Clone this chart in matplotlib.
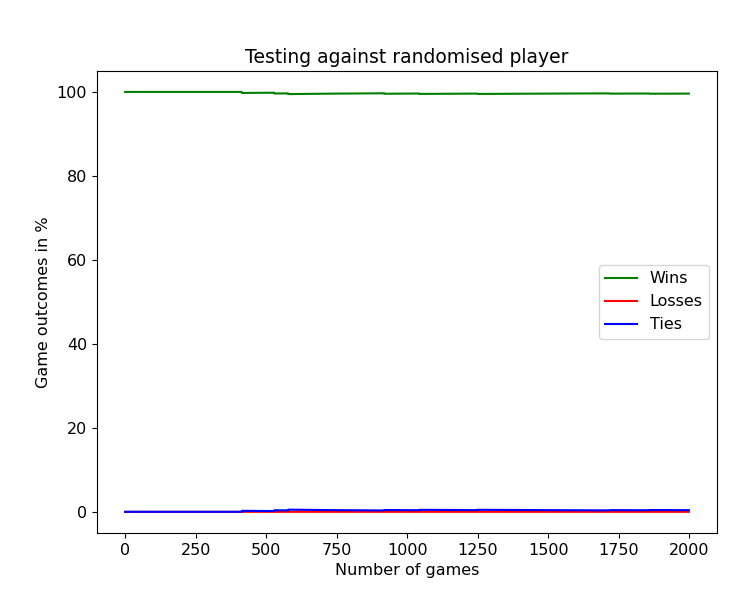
import numpy as np
import matplotlib
matplotlib.use("Agg")
import matplotlib.pyplot as plt

# games (1-based index) that ended in a tie
n_games = 2000
tie_games = [415, 530, 580, 920, 1045, 1250, 1720, 1860]
loss_games = []

games = np.arange(1, n_games + 1)
ties = np.zeros(n_games)
losses = np.zeros(n_games)
for g in tie_games:
    ties[g - 1] = 1
for g in loss_games:
    losses[g - 1] = 1

tie_pct = np.cumsum(ties) / games * 100
loss_pct = np.cumsum(losses) / games * 100
win_pct = 100 - tie_pct - loss_pct

plt.rcParams["font.size"] = 11.5
fig, ax = plt.subplots(figsize=(7.4, 5.96), dpi=100)
fig.subplots_adjust(left=0.131, right=0.969, top=0.881, bottom=0.106)
x = games - 1
ax.plot(x, win_pct, color="green", label="Wins")
ax.plot(x, loss_pct, color="red", label="Losses")
ax.plot(x, tie_pct, color="blue", label="Ties")
ax.set_title("Testing against randomised player", fontsize=13.5)
ax.set_xlabel("Number of games")
ax.set_ylabel("Game outcomes in %")
ax.legend(loc="center right")
fig.savefig("out.png")
